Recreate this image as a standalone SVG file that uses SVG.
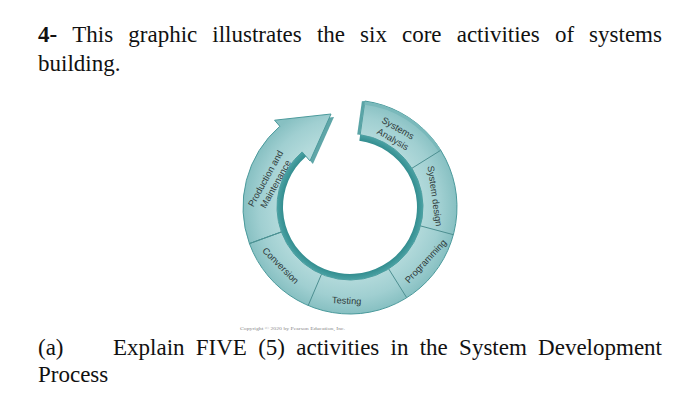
<svg xmlns="http://www.w3.org/2000/svg" width="700" height="410" viewBox="0 0 700 410">
<defs>
<radialGradient id="band" gradientUnits="userSpaceOnUse" cx="350" cy="207" r="107">
<stop offset="0.66" stop-color="#b3dadb"/>
<stop offset="0.85" stop-color="#a0cfd1"/>
<stop offset="1" stop-color="#87c0c2"/>
</radialGradient>
<radialGradient id="rim" gradientUnits="userSpaceOnUse" cx="350" cy="207" r="73">
<stop offset="0.9" stop-color="#2f8a8c"/>
<stop offset="1" stop-color="#4aa1a3"/>
</radialGradient>
<style>
.q{font-family:"Liberation Serif","Times New Roman",serif;font-size:23px;fill:#111}
.lbl{font-family:"Liberation Sans",Arial,sans-serif;font-size:9.3px;fill:#2f3a3a;text-anchor:middle}
.div{stroke:#4d8f91;stroke-width:1;fill:none}
.edge{stroke:#4b9a9c;stroke-width:1}
</style>
</defs>

<g id="question">
<text class="q"><tspan x="38" y="42" font-weight="bold">4-</tspan><tspan x="72.3" y="42">This</tspan><tspan x="128.3" y="42">graphic</tspan><tspan x="212.3" y="42">illustrates</tspan><tspan x="316.9" y="42">the</tspan><tspan x="360.1" y="42">six</tspan><tspan x="402" y="42">core</tspan><tspan x="456.7" y="42">activities</tspan><tspan x="554.9" y="42">of</tspan><tspan x="589.1" y="42">systems</tspan></text>
<text class="q" x="38" y="70.5">building.</text>
</g>

<g id="cycle">
<g id="arrow-production">
<path d="M277.5,123.2 L334,117 L312.9,163.9 Z" fill="#5fa6a8"/>
<path d="M249.45,243.6 A107,107 0 0 1 279.8,126.25 L274.55,120.21 L331,114 L309.98,160.96 L302.11,151.91 A73,73 0 0 0 281.4,231.97 Z" fill="url(#band)" class="edge"/>
<text class="lbl" transform="translate(265.5,178.5) rotate(-61)" x="0" y="3.3">Production and</text>
<text class="lbl" transform="translate(275.5,184) rotate(-61)" x="0" y="3.3">Maintenance</text>
</g>
<g id="ring">
<path d="M364.89,101.04 A107,107 0 1 1 249.45,243.6 L281.4,231.97 A73,73 0 1 0 360.16,134.71 Z" fill="url(#band)" class="edge"/>
<path d="M363.5,103 A105,105 0 0 1 440,151" fill="none" stroke="#7ab9bb" stroke-width="3"/>
<path d="M364.89,101.04 L360.16,134.71 L357.2,134.4 L361.9,101.2 Z" fill="#5aa4a6"/>
</g>
<path id="inner-rim" d="M360.16,134.71 A73,73 0 1 1 302.11,151.91 L306.04,156.43 A67,67 0 1 0 359.32,140.65 Z" fill="url(#rim)"/>
<g id="connectors">
<line class="div" x1="411.9" y1="168.3" x2="440.7" y2="150.3"/>
<line class="div" x1="420.5" y1="225.9" x2="453.4" y2="234.7"/>
<line class="div" x1="388.7" y1="268.9" x2="406.7" y2="297.7"/>
<line class="div" x1="321.5" y1="274.2" x2="308.2" y2="305.5"/>
<line class="div" x1="281.4" y1="232" x2="249.5" y2="243.6"/>
</g>
<g id="systems-analysis">
<text class="lbl" transform="translate(398,128) rotate(30)" x="0" y="3.3">Systems</text>
<text class="lbl" transform="translate(393,139) rotate(30)" x="0" y="3.3">Analysis</text>
</g>
<g id="system-design">
<text class="lbl" transform="translate(435,196) rotate(82)" x="0" y="3.3">System design</text>
</g>
<g id="programming">
<text class="lbl" transform="translate(425.5,261) rotate(-47)" x="0" y="3.3">Programming</text>
</g>
<g id="testing">
<text class="lbl" transform="translate(346.7,300.5) rotate(3)" x="0" y="3.3">Testing</text>
</g>
<g id="conversion">
<text class="lbl" transform="translate(280.7,265.5) rotate(45)" x="0" y="3.3">Conversion</text>
</g>
</g>

<text x="240" y="330" font-family="Liberation Serif,serif" font-size="5" fill="#8a8a8a" textLength="105" lengthAdjust="spacingAndGlyphs">Copyright © 2020 by Pearson Education, Inc.</text>

<g id="task">
<text class="q"><tspan x="38" y="355">(a)</tspan><tspan x="113" y="355">Explain</tspan><tspan x="195.8" y="355">FIVE</tspan><tspan x="258.2" y="355">(5)</tspan><tspan x="296.3" y="355">activities</tspan><tspan x="390.6" y="355">in</tspan><tspan x="419.7" y="355">the</tspan><tspan x="459.1" y="355">System</tspan><tspan x="538.1" y="355">Development</tspan></text>
<text class="q" x="38" y="381.5">Process</text>
</g>
</svg>
